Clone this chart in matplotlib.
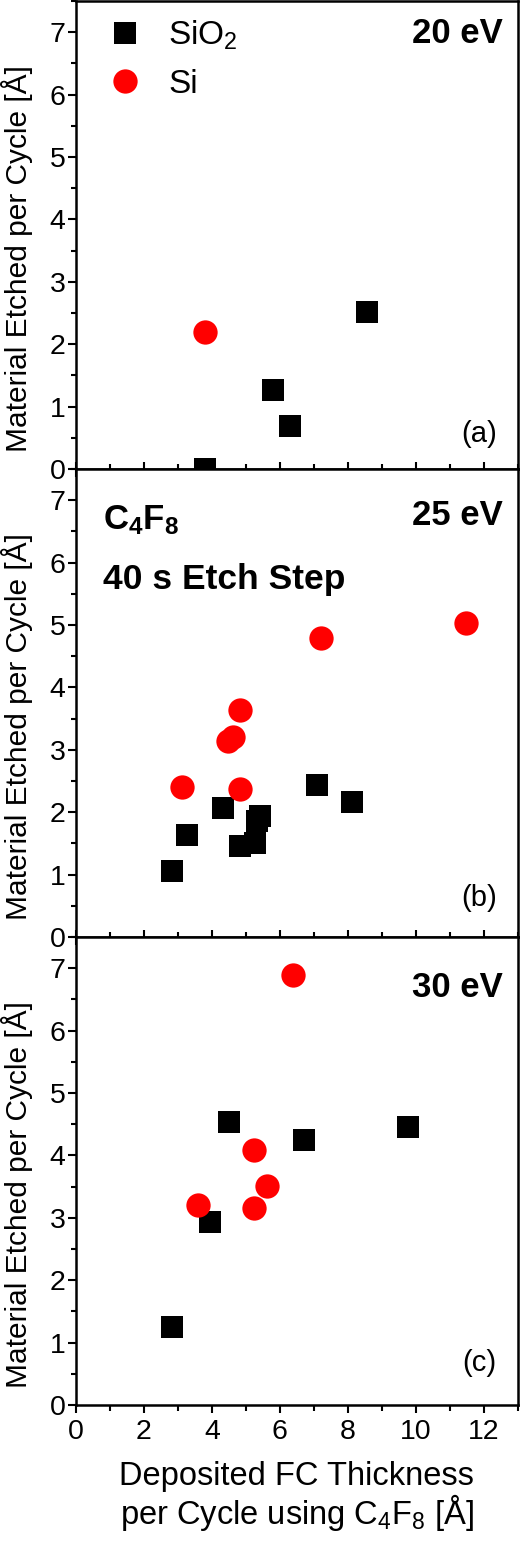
import matplotlib
matplotlib.use("Agg")
import matplotlib.pyplot as plt
from matplotlib.ticker import MultipleLocator
from matplotlib.lines import Line2D

plt.rcParams['font.family'] = ['Liberation Sans', 'DejaVu Sans']
plt.rcParams['mathtext.fontset'] = 'custom'
plt.rcParams['mathtext.rm'] = 'Liberation Sans'
plt.rcParams['mathtext.it'] = 'Liberation Sans:italic'
plt.rcParams['mathtext.bf'] = 'Liberation Sans:bold'

# (a) 20 eV
a_sio2_x = [3.81, 5.80, 6.29, 8.57]
a_sio2_y = [0.0, 1.27, 0.69, 2.52]
a_si_x = [3.81]
a_si_y = [2.19]

# (b) 25 eV
b_sio2_x = [2.83, 3.28, 4.33, 4.82, 5.26, 5.33, 5.41, 7.08, 8.11]
b_sio2_y = [1.05, 1.63, 2.07, 1.46, 1.50, 1.85, 1.93, 2.44, 2.17]
b_si_x = [3.11, 4.48, 4.63, 4.84, 4.84, 7.21, 11.46]
b_si_y = [2.40, 3.14, 3.20, 3.64, 2.37, 4.79, 5.03]

# (c) 30 eV
c_sio2_x = [2.83, 3.94, 4.51, 6.71, 9.77]
c_sio2_y = [1.25, 2.93, 4.54, 4.24, 4.46]
c_si_x = [3.60, 5.24, 5.63, 5.24, 6.39]
c_si_y = [3.20, 4.09, 3.51, 3.16, 6.89]

energies = ["20 eV", "25 eV", "30 eV"]
tags = ["(a)", "(b)", "(c)"]
energy_y = [0.930, 0.900, 0.891]
tag_y = [0.075, 0.083, 0.089]

RED = '#ff0000'
fig = plt.figure(figsize=(5.2, 15.41), dpi=100)

left, width, h = 0.146, 0.850, 0.3037
bottoms = [0.6957, 0.3920, 0.0883]

data = [(a_sio2_x, a_sio2_y, a_si_x, a_si_y),
        (b_sio2_x, b_sio2_y, b_si_x, b_si_y),
        (c_sio2_x, c_sio2_y, c_si_x, c_si_y)]

for i, (sx, sy, cx, cy) in enumerate(data):
    ax = fig.add_axes([left, bottoms[i], width, h])
    ax.plot(sx, sy, 's', color='black', ms=15.5, mew=0, ls='none')
    ax.plot(cx, cy, 'o', color=RED, ms=17.5, mew=0, ls='none')
    ax.set_xlim(0, 13)
    ax.set_ylim(0, 7.5)
    ax.xaxis.set_major_locator(MultipleLocator(2))
    ax.xaxis.set_minor_locator(MultipleLocator(1))
    ax.yaxis.set_major_locator(MultipleLocator(1))
    ax.yaxis.set_minor_locator(MultipleLocator(0.5))
    for s in ax.spines.values():
        s.set_linewidth(1.8)
    ax.tick_params(axis='y', which='major', direction='out', length=5.5, width=1.5,
                   labelsize=20.5, pad=2)
    ax.tick_params(axis='y', which='minor', direction='out', length=3.5, width=1.5)
    if i < 2:
        ax.tick_params(axis='x', which='major', direction='inout', length=10.8, width=1.5,
                       labelbottom=False)
        ax.tick_params(axis='x', which='minor', direction='inout', length=7, width=1.5)
    else:
        ax.tick_params(axis='x', which='major', direction='out', length=6, width=1.5,
                       labelsize=20.5, pad=4)
        ax.tick_params(axis='x', which='minor', direction='out', length=4, width=1.5)
        ax.set_xlabel("Deposited FC Thickness\nper Cycle using C$_4$F$_8$ [Å]",
                      fontsize=23.5, linespacing=1.0, labelpad=12)
    ax.set_ylabel("Material Etched per Cycle [Å]", fontsize=21.5)
    ax.yaxis.set_label_coords(-0.097, 0.45)

    ax.text(0.966, energy_y[i], energies[i], transform=ax.transAxes, ha='right',
            va='center', fontsize=25, fontweight='bold')
    ax.text(0.952, tag_y[i], tags[i], transform=ax.transAxes, ha='right',
            va='center', fontsize=21)

    if i == 0:
        handles = [Line2D([], [], marker='s', color='black', ms=16, mew=0, ls='none'),
                   Line2D([], [], marker='o', color=RED, ms=17.5, mew=0, ls='none')]
        ax.legend(handles, ["SiO$_2$", "Si"], loc='upper left', bbox_to_anchor=(0.02, 1.012),
                  frameon=False, fontsize=24, handlelength=1.0, handletextpad=0.8,
                  labelspacing=0.5, borderpad=0.2)
    if i == 1:
        ax.text(0.061, 0.891, r"$\mathbf{C_4F_8}$", transform=ax.transAxes, ha='left',
                va='center', fontsize=25)
        ax.text(0.061, 0.763, "40 s Etch Step", transform=ax.transAxes, ha='left',
                va='center', fontsize=25.5, fontweight='bold')

fig.savefig("out.png", dpi=100)
